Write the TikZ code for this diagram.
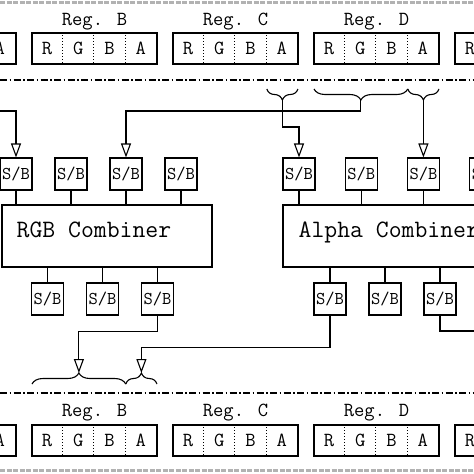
\documentclass[tikz,border=0pt]{standalone}
\usepackage{tikz}
\usetikzlibrary{positioning,arrows.meta,decorations.pathreplacing,calc}

\begin{document}
\begin{tikzpicture}[x=1pt, y=-1pt, on grid,
    register/.style={draw, line width=1.4pt, minimum width=125pt, minimum height=31pt, inner sep=0pt},
    field/.style={font=\ttfamily\fontsize{20}{24}\selectfont, inner sep=0pt},
    reglabel/.style={font=\ttfamily\fontsize{20}{24}\selectfont, inner sep=0pt, anchor=base},
    sb/.style={draw, line width=1.1pt, minimum size=32pt, inner sep=0pt, font=\ttfamily\fontsize{18}{20}\selectfont},
    combiner/.style={draw, line width=1.1pt, minimum height=62pt, inner sep=0pt},
    combtext/.style={font=\ttfamily\fontsize{25}{30}\selectfont, inner sep=0pt, anchor=base west},
    wire/.style={line width=1.1pt},
    feed/.style={line width=1.1pt, -{Triangle[open, length=14pt, width=10pt, line width=1.1pt]}},
    splitter/.style={line width=1.1pt, decorate, decoration={brace, amplitude=11pt}},
    stage/.style={line width=1.1pt, dash pattern=on 7pt off 2.5pt on 1.5pt off 2.5pt},
    frame/.style={line width=3pt, gray!60, dash pattern=on 5pt off 1.5pt}]
    \clip (0,0) rectangle (474,474);

    % Registers
    \foreach \rg/\x in {A/-46.5, B/94.5, C/235.5, D/376.5, E/517.5} {
        \foreach \rw/\y in {t/48.5, b/440.5} {
            \node[register] (\rg\rw) at (\x,\y) {};
            \foreach \fld [count=\i] in {R,G,B,A}
                \node[field] (\rg\rw\fld) at ($(\rg\rw.west)+(31.25*\i-15.625,0)$) {\fld};
            \foreach \i in {1,2,3}
                \draw[dotted, line width=1pt] ($(\rg\rw.north west)+(31.25*\i,0)$) -- ($(\rg\rw.south west)+(31.25*\i,0)$);
        }
    }
    \foreach \rg in {B,C,D} {
        \node[reglabel] (\rg tLabel) at ($(\rg t.north)+(0,-7)$) {Reg. \rg};
        \node[reglabel] (\rg bLabel) at ($(\rg b.north)+(0,-8)$) {Reg. \rg};
    }

    % Stage borders
    \draw[frame] (0,2) -- (474,2);
    \draw[frame] (0,470) -- (474,470);
    \draw[stage] (0,80) -- (474,80);
    \draw[stage] (0,393) -- (474,393);

    % Combiners
    \node[combiner, minimum width=210pt] (rgb) at (107,236) {};
    \node[combtext] (rgbText) at ($(rgb.west)+(15,1)$) {RGB Combiner};
    \node[combiner, minimum width=300pt] (alpha) at (433,236) {};
    \node[combtext] (alphaText) at ($(alpha.west)+(16,1)$) {Alpha Combiner};

    % Swizzle/bias units
    \node[sb] (rgbIn1) at (16,174) {S/B};
    \node[sb] (rgbIn2) [right=55pt of rgbIn1] {S/B};
    \node[sb] (rgbIn3) [right=55pt of rgbIn2] {S/B};
    \node[sb] (rgbIn4) [right=55pt of rgbIn3] {S/B};
    \node[sb] (alphaIn1) at (299,174) {S/B};
    \node[sb] (alphaIn2) [right=62.25pt of alphaIn1] {S/B};
    \node[sb] (alphaIn3) [right=62.25pt of alphaIn2] {S/B};
    \node[sb] (alphaIn4) [right=62.25pt of alphaIn3] {S/B};
    \node[sb] (rgbOut1) at (47.5,299) {S/B};
    \node[sb] (rgbOut2) [right=55pt of rgbOut1] {S/B};
    \node[sb] (rgbOut3) [right=55pt of rgbOut2] {S/B};
    \node[sb] (alphaOut1) at (330,299) {S/B};
    \node[sb] (alphaOut2) [right=55pt of alphaOut1] {S/B};
    \node[sb] (alphaOut3) [right=55pt of alphaOut2] {S/B};

    % Braces
    \draw[splitter] (298,89) -- (266.75,89);
    \draw[splitter] (407.75,89) -- (314,89);
    \draw[splitter] (439,89) -- (407.75,89);
    \draw[splitter] (32,384) -- (125.75,384);
    \draw[splitter] (125.75,384) -- (157,384);
    \coordinate (cA) at (282.4,100);
    \coordinate (dRGB) at (360.9,100);
    \coordinate (dA) at (423.4,100);
    \coordinate (bRGB) at (78.9,373);
    \coordinate (bA) at (141.4,373);
    \coordinate (aRGB) at (-5,111);
    \coordinate (eOut) at (490,331);

    % Wires
    \foreach \i in {1,...,4} {
        \draw[wire] (rgbIn\i.south) -- (rgbIn\i.south |- rgb.north);
        \draw[wire] (alphaIn\i.south) -- (alphaIn\i.south |- alpha.north);
    }
    \foreach \i in {1,2,3} {
        \draw[wire] (rgb.south -| rgbOut\i.north) -- (rgbOut\i.north);
        \draw[wire] (alpha.south -| alphaOut\i.north) -- (alphaOut\i.north);
    }
    \draw[feed] (aRGB) -| (rgbIn1.north);
    \draw[feed] (dRGB) -- ++(0,11) -| (rgbIn3.north);
    \draw[feed] (cA) -- ++(0,27) -| (alphaIn1.north);
    \draw[feed] (dA) -- (dA |- alphaIn3.north);
    \draw[feed] (rgbOut3.south) -- ++(0,16) -| (bRGB);
    \draw[feed] (alphaOut1.south) -- ++(0,32) -| (bA);
    \draw[wire] (alphaOut3.south) |- (eOut);
\end{tikzpicture}
\end{document}
